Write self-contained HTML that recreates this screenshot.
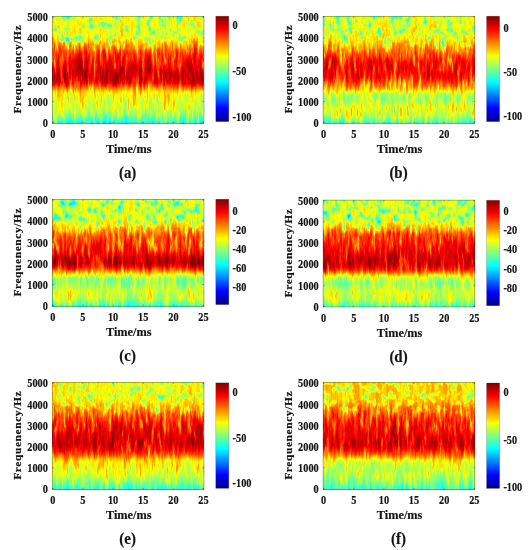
<!DOCTYPE html>
<html><head><meta charset="utf-8"><title>Spectrograms</title>
<style>
html,body{margin:0;padding:0;background:#fff;}
svg{display:block}
text{font-family:"Liberation Serif","Times New Roman",serif;font-weight:bold;fill:#141414;stroke:#141414;stroke-width:.18px}
.t{font-size:11.7px}
.l{font-size:13.4px}
.yl{font-size:11.4px;letter-spacing:.62px}
.c{font-size:16.4px}
</style></head><body>
<svg width="531" height="550" viewBox="0 0 531 550">
<defs>
<linearGradient id="jet" x1="0" y1="1" x2="0" y2="0">
<stop offset="0" stop-color="rgb(0,0,133)"/><stop offset=".125" stop-color="rgb(0,0,255)"/><stop offset=".375" stop-color="rgb(0,255,255)"/><stop offset=".625" stop-color="rgb(255,255,0)"/><stop offset=".875" stop-color="rgb(255,0,0)"/><stop offset="1" stop-color="rgb(128,0,0)"/></linearGradient>
<linearGradient id="ga" x1="0" y1="0" x2="0" y2="1"><stop offset="0.0000" stop-color="rgb(138,20,51)"/><stop offset="0.0250" stop-color="rgb(137,22,51)"/><stop offset="0.0500" stop-color="rgb(137,23,51)"/><stop offset="0.0750" stop-color="rgb(136,25,51)"/><stop offset="0.1000" stop-color="rgb(135,26,51)"/><stop offset="0.1250" stop-color="rgb(134,27,51)"/><stop offset="0.1500" stop-color="rgb(133,29,51)"/><stop offset="0.1750" stop-color="rgb(132,30,51)"/><stop offset="0.2000" stop-color="rgb(127,38,48)"/><stop offset="0.2250" stop-color="rgb(130,47,40)"/><stop offset="0.2500" stop-color="rgb(133,56,32)"/><stop offset="0.2750" stop-color="rgb(136,65,24)"/><stop offset="0.3000" stop-color="rgb(145,65,15)"/><stop offset="0.3250" stop-color="rgb(156,64,5)"/><stop offset="0.3500" stop-color="rgb(163,62,0)"/><stop offset="0.3750" stop-color="rgb(167,61,0)"/><stop offset="0.4000" stop-color="rgb(171,59,0)"/><stop offset="0.4250" stop-color="rgb(176,58,0)"/><stop offset="0.4500" stop-color="rgb(180,56,0)"/><stop offset="0.4750" stop-color="rgb(185,54,0)"/><stop offset="0.5000" stop-color="rgb(191,53,0)"/><stop offset="0.5250" stop-color="rgb(195,51,0)"/><stop offset="0.5500" stop-color="rgb(196,49,0)"/><stop offset="0.5750" stop-color="rgb(197,48,0)"/><stop offset="0.6000" stop-color="rgb(196,46,0)"/><stop offset="0.6250" stop-color="rgb(188,49,0)"/><stop offset="0.6500" stop-color="rgb(168,52,0)"/><stop offset="0.6750" stop-color="rgb(147,55,0)"/><stop offset="0.7000" stop-color="rgb(128,58,0)"/><stop offset="0.7250" stop-color="rgb(116,59,0)"/><stop offset="0.7500" stop-color="rgb(111,61,0)"/><stop offset="0.7750" stop-color="rgb(110,61,0)"/><stop offset="0.8000" stop-color="rgb(109,61,0)"/><stop offset="0.8250" stop-color="rgb(107,61,0)"/><stop offset="0.8500" stop-color="rgb(106,61,0)"/><stop offset="0.8750" stop-color="rgb(102,61,0)"/><stop offset="0.9000" stop-color="rgb(97,61,0)"/><stop offset="0.9250" stop-color="rgb(90,61,0)"/><stop offset="0.9500" stop-color="rgb(79,61,0)"/><stop offset="0.9750" stop-color="rgb(70,61,0)"/><stop offset="1.0000" stop-color="rgb(62,61,0)"/></linearGradient>
<filter id="fa" x="0" y="0" width="1" height="1" color-interpolation-filters="sRGB">
<feTurbulence type="fractalNoise" baseFrequency="0.33 0.055" numOctaves="3" seed="3" result="t1"/>
<feColorMatrix in="t1" type="matrix" values="2.2 0 0 0 -.6  2.2 0 0 0 -.6  2.2 0 0 0 -.6  0 0 0 0 1" result="n1l"/>
<feComponentTransfer in="n1l" result="n1"><feFuncR type="gamma" exponent="0.55"/><feFuncG type="gamma" exponent="0.55"/><feFuncB type="gamma" exponent="0.55"/></feComponentTransfer>
<feTurbulence type="fractalNoise" baseFrequency="0.17 0.14" numOctaves="2" seed="103" result="t2"/>
<feColorMatrix in="t2" type="matrix" values="3.0 0 0 0 -1.45  3.0 0 0 0 -1.45  3.0 0 0 0 -1.45  0 0 0 0 1" result="n2"/>
<feTurbulence type="fractalNoise" baseFrequency="0.08 0.012" numOctaves="2" seed="203" result="t3"/>
<feColorMatrix in="t3" type="matrix" values="2 0 0 0 -.5  2 0 0 0 -.5  2 0 0 0 -.5  0 0 0 0 1" result="n3"/>
<feColorMatrix in="SourceGraphic" type="matrix" values="1 0 0 0 0  1 0 0 0 0  1 0 0 0 0  0 0 0 0 1" result="P"/>
<feColorMatrix in="SourceGraphic" type="matrix" values="0 1 0 0 0  0 1 0 0 0  0 1 0 0 0  0 0 0 0 1" result="A1"/>
<feColorMatrix in="SourceGraphic" type="matrix" values="0 0 1 0 0  0 0 1 0 0  0 0 1 0 0  0 0 0 0 1" result="A2"/>
<feComponentTransfer in="n1l" result="n1p"><feFuncR type="gamma" exponent="1.7"/><feFuncG type="gamma" exponent="1.7"/><feFuncB type="gamma" exponent="1.7"/></feComponentTransfer>
<feComposite in="A1" in2="n1" operator="arithmetic" k1="0.9" k2="0" k3="0" k4="0" result="s1"/>
<feComposite in="A1" in2="n1p" operator="arithmetic" k1="0.558" k2="0.393" k3="0" k4="0" result="s1b"/>
<feComposite in="A2" in2="n2" operator="arithmetic" k1="0.9" k2="0" k3="0" k4="0" result="s2"/>
<feComposite in="P" in2="s1" operator="arithmetic" k1="0" k2="1" k3="1" k4="0" result="v1"/>
<feComposite in="P" in2="s1b" operator="arithmetic" k1="0" k2="1" k3="1" k4="0" result="v1b"/>
<feFlood flood-color="#000" x="47.3" y="90.1" width="161.7" height="106.9" result="m"/>
<feGaussianBlur in="m" stdDeviation="0 1.6" result="mb"/>
<feComposite in="v1b" in2="mb" operator="in" result="v1bm"/>
<feMerge result="v1m"><feMergeNode in="v1"/><feMergeNode in="v1bm"/></feMerge>
<feComposite in="v1m" in2="n3" operator="arithmetic" k1="0" k2="1" k3="0.07" k4="0" result="v2"/>
<feColorMatrix in="s2" type="matrix" values="-1 0 0 0 1  -1 0 0 0 1  -1 0 0 0 1  0 0 0 0 1" result="s2i"/>
<feComposite in="v2" in2="s2i" operator="arithmetic" k1="0" k2="1" k3="1" k4="-1" result="v3"/>
<feComponentTransfer in="v3" result="col"><feFuncR type="table" tableValues="0 0 0 0 .5 1 1 1 .5"/><feFuncG type="table" tableValues="0 0 .5 1 1 1 .5 0 0"/><feFuncB type="table" tableValues=".52 1 1 1 .5 0 0 0 0"/><feFuncA type="linear" slope="0" intercept="1"/></feComponentTransfer>
<feGaussianBlur in="col" stdDeviation="0.45" result="bl"/>
<feComponentTransfer in="bl"><feFuncA type="linear" slope="0" intercept="1"/></feComponentTransfer>
</filter>
<linearGradient id="gb" x1="0" y1="0" x2="0" y2="1"><stop offset="0.0000" stop-color="rgb(131,20,51)"/><stop offset="0.0250" stop-color="rgb(131,23,51)"/><stop offset="0.0500" stop-color="rgb(131,25,51)"/><stop offset="0.0750" stop-color="rgb(131,27,51)"/><stop offset="0.1000" stop-color="rgb(131,29,51)"/><stop offset="0.1250" stop-color="rgb(131,31,51)"/><stop offset="0.1500" stop-color="rgb(131,33,51)"/><stop offset="0.1750" stop-color="rgb(131,35,51)"/><stop offset="0.2000" stop-color="rgb(127,42,48)"/><stop offset="0.2250" stop-color="rgb(128,49,40)"/><stop offset="0.2500" stop-color="rgb(129,57,32)"/><stop offset="0.2750" stop-color="rgb(132,65,24)"/><stop offset="0.3000" stop-color="rgb(139,65,15)"/><stop offset="0.3250" stop-color="rgb(145,64,5)"/><stop offset="0.3500" stop-color="rgb(152,62,0)"/><stop offset="0.3750" stop-color="rgb(158,61,0)"/><stop offset="0.4000" stop-color="rgb(165,59,0)"/><stop offset="0.4250" stop-color="rgb(171,58,0)"/><stop offset="0.4500" stop-color="rgb(175,56,0)"/><stop offset="0.4750" stop-color="rgb(178,56,0)"/><stop offset="0.5000" stop-color="rgb(178,56,0)"/><stop offset="0.5250" stop-color="rgb(178,56,0)"/><stop offset="0.5500" stop-color="rgb(178,56,0)"/><stop offset="0.5750" stop-color="rgb(174,56,0)"/><stop offset="0.6000" stop-color="rgb(166,56,0)"/><stop offset="0.6250" stop-color="rgb(154,59,0)"/><stop offset="0.6500" stop-color="rgb(143,62,0)"/><stop offset="0.6750" stop-color="rgb(128,66,0)"/><stop offset="0.7000" stop-color="rgb(114,66,0)"/><stop offset="0.7250" stop-color="rgb(98,66,0)"/><stop offset="0.7500" stop-color="rgb(90,66,0)"/><stop offset="0.7750" stop-color="rgb(87,67,0)"/><stop offset="0.8000" stop-color="rgb(92,68,0)"/><stop offset="0.8250" stop-color="rgb(98,69,0)"/><stop offset="0.8500" stop-color="rgb(104,70,0)"/><stop offset="0.8750" stop-color="rgb(104,71,0)"/><stop offset="0.9000" stop-color="rgb(101,72,0)"/><stop offset="0.9250" stop-color="rgb(97,73,0)"/><stop offset="0.9500" stop-color="rgb(87,74,0)"/><stop offset="0.9750" stop-color="rgb(75,75,0)"/><stop offset="1.0000" stop-color="rgb(64,76,0)"/></linearGradient>
<filter id="fb" x="0" y="0" width="1" height="1" color-interpolation-filters="sRGB">
<feTurbulence type="fractalNoise" baseFrequency="0.33 0.055" numOctaves="3" seed="11" result="t1"/>
<feColorMatrix in="t1" type="matrix" values="2.2 0 0 0 -.6  2.2 0 0 0 -.6  2.2 0 0 0 -.6  0 0 0 0 1" result="n1l"/>
<feComponentTransfer in="n1l" result="n1"><feFuncR type="gamma" exponent="0.55"/><feFuncG type="gamma" exponent="0.55"/><feFuncB type="gamma" exponent="0.55"/></feComponentTransfer>
<feTurbulence type="fractalNoise" baseFrequency="0.17 0.14" numOctaves="2" seed="111" result="t2"/>
<feColorMatrix in="t2" type="matrix" values="3.0 0 0 0 -1.45  3.0 0 0 0 -1.45  3.0 0 0 0 -1.45  0 0 0 0 1" result="n2"/>
<feTurbulence type="fractalNoise" baseFrequency="0.08 0.012" numOctaves="2" seed="211" result="t3"/>
<feColorMatrix in="t3" type="matrix" values="2 0 0 0 -.5  2 0 0 0 -.5  2 0 0 0 -.5  0 0 0 0 1" result="n3"/>
<feColorMatrix in="SourceGraphic" type="matrix" values="1 0 0 0 0  1 0 0 0 0  1 0 0 0 0  0 0 0 0 1" result="P"/>
<feColorMatrix in="SourceGraphic" type="matrix" values="0 1 0 0 0  0 1 0 0 0  0 1 0 0 0  0 0 0 0 1" result="A1"/>
<feColorMatrix in="SourceGraphic" type="matrix" values="0 0 1 0 0  0 0 1 0 0  0 0 1 0 0  0 0 0 0 1" result="A2"/>
<feComponentTransfer in="n1l" result="n1p"><feFuncR type="gamma" exponent="1.7"/><feFuncG type="gamma" exponent="1.7"/><feFuncB type="gamma" exponent="1.7"/></feComponentTransfer>
<feComposite in="A1" in2="n1" operator="arithmetic" k1="0.9" k2="0" k3="0" k4="0" result="s1"/>
<feComposite in="A1" in2="n1p" operator="arithmetic" k1="0.558" k2="0.393" k3="0" k4="0" result="s1b"/>
<feComposite in="A2" in2="n2" operator="arithmetic" k1="0.9" k2="0" k3="0" k4="0" result="s2"/>
<feComposite in="P" in2="s1" operator="arithmetic" k1="0" k2="1" k3="1" k4="0" result="v1"/>
<feComposite in="P" in2="s1b" operator="arithmetic" k1="0" k2="1" k3="1" k4="0" result="v1b"/>
<feFlood flood-color="#000" x="318.1" y="90.1" width="161.7" height="106.9" result="m"/>
<feGaussianBlur in="m" stdDeviation="0 1.6" result="mb"/>
<feComposite in="v1b" in2="mb" operator="in" result="v1bm"/>
<feMerge result="v1m"><feMergeNode in="v1"/><feMergeNode in="v1bm"/></feMerge>
<feComposite in="v1m" in2="n3" operator="arithmetic" k1="0" k2="1" k3="0.07" k4="0" result="v2"/>
<feColorMatrix in="s2" type="matrix" values="-1 0 0 0 1  -1 0 0 0 1  -1 0 0 0 1  0 0 0 0 1" result="s2i"/>
<feComposite in="v2" in2="s2i" operator="arithmetic" k1="0" k2="1" k3="1" k4="-1" result="v3"/>
<feComponentTransfer in="v3" result="col"><feFuncR type="table" tableValues="0 0 0 0 .5 1 1 1 .5"/><feFuncG type="table" tableValues="0 0 .5 1 1 1 .5 0 0"/><feFuncB type="table" tableValues=".52 1 1 1 .5 0 0 0 0"/><feFuncA type="linear" slope="0" intercept="1"/></feComponentTransfer>
<feGaussianBlur in="col" stdDeviation="0.45" result="bl"/>
<feComponentTransfer in="bl"><feFuncA type="linear" slope="0" intercept="1"/></feComponentTransfer>
</filter>
<linearGradient id="gc" x1="0" y1="0" x2="0" y2="1"><stop offset="0.0000" stop-color="rgb(133,20,64)"/><stop offset="0.0250" stop-color="rgb(132,22,63)"/><stop offset="0.0500" stop-color="rgb(132,23,63)"/><stop offset="0.0750" stop-color="rgb(131,25,63)"/><stop offset="0.1000" stop-color="rgb(130,26,62)"/><stop offset="0.1250" stop-color="rgb(129,27,62)"/><stop offset="0.1500" stop-color="rgb(129,29,62)"/><stop offset="0.1750" stop-color="rgb(128,30,61)"/><stop offset="0.2000" stop-color="rgb(123,38,57)"/><stop offset="0.2250" stop-color="rgb(122,47,46)"/><stop offset="0.2500" stop-color="rgb(125,56,34)"/><stop offset="0.2750" stop-color="rgb(129,65,24)"/><stop offset="0.3000" stop-color="rgb(137,65,15)"/><stop offset="0.3250" stop-color="rgb(147,64,5)"/><stop offset="0.3500" stop-color="rgb(154,62,0)"/><stop offset="0.3750" stop-color="rgb(158,61,0)"/><stop offset="0.4000" stop-color="rgb(163,59,0)"/><stop offset="0.4250" stop-color="rgb(167,58,0)"/><stop offset="0.4500" stop-color="rgb(171,56,0)"/><stop offset="0.4750" stop-color="rgb(176,54,0)"/><stop offset="0.5000" stop-color="rgb(181,53,0)"/><stop offset="0.5250" stop-color="rgb(187,51,0)"/><stop offset="0.5500" stop-color="rgb(195,49,0)"/><stop offset="0.5750" stop-color="rgb(199,48,0)"/><stop offset="0.6000" stop-color="rgb(200,46,0)"/><stop offset="0.6250" stop-color="rgb(188,49,0)"/><stop offset="0.6500" stop-color="rgb(169,52,0)"/><stop offset="0.6750" stop-color="rgb(144,55,0)"/><stop offset="0.7000" stop-color="rgb(119,58,0)"/><stop offset="0.7250" stop-color="rgb(100,59,0)"/><stop offset="0.7500" stop-color="rgb(88,61,0)"/><stop offset="0.7750" stop-color="rgb(89,61,0)"/><stop offset="0.8000" stop-color="rgb(92,61,0)"/><stop offset="0.8250" stop-color="rgb(98,61,0)"/><stop offset="0.8500" stop-color="rgb(104,61,0)"/><stop offset="0.8750" stop-color="rgb(105,61,0)"/><stop offset="0.9000" stop-color="rgb(103,61,0)"/><stop offset="0.9250" stop-color="rgb(101,61,0)"/><stop offset="0.9500" stop-color="rgb(92,61,0)"/><stop offset="0.9750" stop-color="rgb(81,61,0)"/><stop offset="1.0000" stop-color="rgb(71,61,0)"/></linearGradient>
<filter id="fc" x="0" y="0" width="1" height="1" color-interpolation-filters="sRGB">
<feTurbulence type="fractalNoise" baseFrequency="0.33 0.055" numOctaves="3" seed="23" result="t1"/>
<feColorMatrix in="t1" type="matrix" values="2.2 0 0 0 -.6  2.2 0 0 0 -.6  2.2 0 0 0 -.6  0 0 0 0 1" result="n1l"/>
<feComponentTransfer in="n1l" result="n1"><feFuncR type="gamma" exponent="0.55"/><feFuncG type="gamma" exponent="0.55"/><feFuncB type="gamma" exponent="0.55"/></feComponentTransfer>
<feTurbulence type="fractalNoise" baseFrequency="0.17 0.14" numOctaves="2" seed="123" result="t2"/>
<feColorMatrix in="t2" type="matrix" values="3.0 0 0 0 -1.45  3.0 0 0 0 -1.45  3.0 0 0 0 -1.45  0 0 0 0 1" result="n2"/>
<feTurbulence type="fractalNoise" baseFrequency="0.08 0.012" numOctaves="2" seed="223" result="t3"/>
<feColorMatrix in="t3" type="matrix" values="2 0 0 0 -.5  2 0 0 0 -.5  2 0 0 0 -.5  0 0 0 0 1" result="n3"/>
<feColorMatrix in="SourceGraphic" type="matrix" values="1 0 0 0 0  1 0 0 0 0  1 0 0 0 0  0 0 0 0 1" result="P"/>
<feColorMatrix in="SourceGraphic" type="matrix" values="0 1 0 0 0  0 1 0 0 0  0 1 0 0 0  0 0 0 0 1" result="A1"/>
<feColorMatrix in="SourceGraphic" type="matrix" values="0 0 1 0 0  0 0 1 0 0  0 0 1 0 0  0 0 0 0 1" result="A2"/>
<feComponentTransfer in="n1l" result="n1p"><feFuncR type="gamma" exponent="1.7"/><feFuncG type="gamma" exponent="1.7"/><feFuncB type="gamma" exponent="1.7"/></feComponentTransfer>
<feComposite in="A1" in2="n1" operator="arithmetic" k1="0.9" k2="0" k3="0" k4="0" result="s1"/>
<feComposite in="A1" in2="n1p" operator="arithmetic" k1="0.558" k2="0.393" k3="0" k4="0" result="s1b"/>
<feComposite in="A2" in2="n2" operator="arithmetic" k1="0.9" k2="0" k3="0" k4="0" result="s2"/>
<feComposite in="P" in2="s1" operator="arithmetic" k1="0" k2="1" k3="1" k4="0" result="v1"/>
<feComposite in="P" in2="s1b" operator="arithmetic" k1="0" k2="1" k3="1" k4="0" result="v1b"/>
<feFlood flood-color="#000" x="47.3" y="273.1" width="161.7" height="106.9" result="m"/>
<feGaussianBlur in="m" stdDeviation="0 1.6" result="mb"/>
<feComposite in="v1b" in2="mb" operator="in" result="v1bm"/>
<feMerge result="v1m"><feMergeNode in="v1"/><feMergeNode in="v1bm"/></feMerge>
<feComposite in="v1m" in2="n3" operator="arithmetic" k1="0" k2="1" k3="0.07" k4="0" result="v2"/>
<feColorMatrix in="s2" type="matrix" values="-1 0 0 0 1  -1 0 0 0 1  -1 0 0 0 1  0 0 0 0 1" result="s2i"/>
<feComposite in="v2" in2="s2i" operator="arithmetic" k1="0" k2="1" k3="1" k4="-1" result="v3"/>
<feComponentTransfer in="v3" result="col"><feFuncR type="table" tableValues="0 0 0 0 .5 1 1 1 .5"/><feFuncG type="table" tableValues="0 0 .5 1 1 1 .5 0 0"/><feFuncB type="table" tableValues=".52 1 1 1 .5 0 0 0 0"/><feFuncA type="linear" slope="0" intercept="1"/></feComponentTransfer>
<feGaussianBlur in="col" stdDeviation="0.45" result="bl"/>
<feComponentTransfer in="bl"><feFuncA type="linear" slope="0" intercept="1"/></feComponentTransfer>
</filter>
<linearGradient id="gd" x1="0" y1="0" x2="0" y2="1"><stop offset="0.0000" stop-color="rgb(133,20,64)"/><stop offset="0.0250" stop-color="rgb(132,22,63)"/><stop offset="0.0500" stop-color="rgb(132,23,63)"/><stop offset="0.0750" stop-color="rgb(131,25,63)"/><stop offset="0.1000" stop-color="rgb(130,26,62)"/><stop offset="0.1250" stop-color="rgb(129,27,62)"/><stop offset="0.1500" stop-color="rgb(129,29,62)"/><stop offset="0.1750" stop-color="rgb(128,30,61)"/><stop offset="0.2000" stop-color="rgb(123,38,57)"/><stop offset="0.2250" stop-color="rgb(127,47,46)"/><stop offset="0.2500" stop-color="rgb(131,56,34)"/><stop offset="0.2750" stop-color="rgb(136,65,24)"/><stop offset="0.3000" stop-color="rgb(148,65,15)"/><stop offset="0.3250" stop-color="rgb(159,64,5)"/><stop offset="0.3500" stop-color="rgb(162,62,0)"/><stop offset="0.3750" stop-color="rgb(165,61,0)"/><stop offset="0.4000" stop-color="rgb(169,59,0)"/><stop offset="0.4250" stop-color="rgb(173,58,0)"/><stop offset="0.4500" stop-color="rgb(177,56,0)"/><stop offset="0.4750" stop-color="rgb(182,54,0)"/><stop offset="0.5000" stop-color="rgb(187,53,0)"/><stop offset="0.5250" stop-color="rgb(192,51,0)"/><stop offset="0.5500" stop-color="rgb(195,49,0)"/><stop offset="0.5750" stop-color="rgb(196,48,0)"/><stop offset="0.6000" stop-color="rgb(198,46,0)"/><stop offset="0.6250" stop-color="rgb(189,49,0)"/><stop offset="0.6500" stop-color="rgb(175,52,0)"/><stop offset="0.6750" stop-color="rgb(152,55,0)"/><stop offset="0.7000" stop-color="rgb(125,58,0)"/><stop offset="0.7250" stop-color="rgb(104,59,0)"/><stop offset="0.7500" stop-color="rgb(96,61,0)"/><stop offset="0.7750" stop-color="rgb(90,61,0)"/><stop offset="0.8000" stop-color="rgb(92,61,0)"/><stop offset="0.8250" stop-color="rgb(97,61,0)"/><stop offset="0.8500" stop-color="rgb(102,61,0)"/><stop offset="0.8750" stop-color="rgb(103,61,0)"/><stop offset="0.9000" stop-color="rgb(101,61,0)"/><stop offset="0.9250" stop-color="rgb(99,61,0)"/><stop offset="0.9500" stop-color="rgb(91,61,0)"/><stop offset="0.9750" stop-color="rgb(81,61,0)"/><stop offset="1.0000" stop-color="rgb(68,61,0)"/></linearGradient>
<filter id="fd" x="0" y="0" width="1" height="1" color-interpolation-filters="sRGB">
<feTurbulence type="fractalNoise" baseFrequency="0.33 0.055" numOctaves="3" seed="31" result="t1"/>
<feColorMatrix in="t1" type="matrix" values="2.2 0 0 0 -.6  2.2 0 0 0 -.6  2.2 0 0 0 -.6  0 0 0 0 1" result="n1l"/>
<feComponentTransfer in="n1l" result="n1"><feFuncR type="gamma" exponent="0.55"/><feFuncG type="gamma" exponent="0.55"/><feFuncB type="gamma" exponent="0.55"/></feComponentTransfer>
<feTurbulence type="fractalNoise" baseFrequency="0.17 0.14" numOctaves="2" seed="131" result="t2"/>
<feColorMatrix in="t2" type="matrix" values="3.0 0 0 0 -1.45  3.0 0 0 0 -1.45  3.0 0 0 0 -1.45  0 0 0 0 1" result="n2"/>
<feTurbulence type="fractalNoise" baseFrequency="0.08 0.012" numOctaves="2" seed="231" result="t3"/>
<feColorMatrix in="t3" type="matrix" values="2 0 0 0 -.5  2 0 0 0 -.5  2 0 0 0 -.5  0 0 0 0 1" result="n3"/>
<feColorMatrix in="SourceGraphic" type="matrix" values="1 0 0 0 0  1 0 0 0 0  1 0 0 0 0  0 0 0 0 1" result="P"/>
<feColorMatrix in="SourceGraphic" type="matrix" values="0 1 0 0 0  0 1 0 0 0  0 1 0 0 0  0 0 0 0 1" result="A1"/>
<feColorMatrix in="SourceGraphic" type="matrix" values="0 0 1 0 0  0 0 1 0 0  0 0 1 0 0  0 0 0 0 1" result="A2"/>
<feComponentTransfer in="n1l" result="n1p"><feFuncR type="gamma" exponent="1.7"/><feFuncG type="gamma" exponent="1.7"/><feFuncB type="gamma" exponent="1.7"/></feComponentTransfer>
<feComposite in="A1" in2="n1" operator="arithmetic" k1="0.9" k2="0" k3="0" k4="0" result="s1"/>
<feComposite in="A1" in2="n1p" operator="arithmetic" k1="0.558" k2="0.393" k3="0" k4="0" result="s1b"/>
<feComposite in="A2" in2="n2" operator="arithmetic" k1="0.9" k2="0" k3="0" k4="0" result="s2"/>
<feComposite in="P" in2="s1" operator="arithmetic" k1="0" k2="1" k3="1" k4="0" result="v1"/>
<feComposite in="P" in2="s1b" operator="arithmetic" k1="0" k2="1" k3="1" k4="0" result="v1b"/>
<feFlood flood-color="#000" x="318.1" y="273.9" width="161.7" height="106.9" result="m"/>
<feGaussianBlur in="m" stdDeviation="0 1.6" result="mb"/>
<feComposite in="v1b" in2="mb" operator="in" result="v1bm"/>
<feMerge result="v1m"><feMergeNode in="v1"/><feMergeNode in="v1bm"/></feMerge>
<feComposite in="v1m" in2="n3" operator="arithmetic" k1="0" k2="1" k3="0.07" k4="0" result="v2"/>
<feColorMatrix in="s2" type="matrix" values="-1 0 0 0 1  -1 0 0 0 1  -1 0 0 0 1  0 0 0 0 1" result="s2i"/>
<feComposite in="v2" in2="s2i" operator="arithmetic" k1="0" k2="1" k3="1" k4="-1" result="v3"/>
<feComponentTransfer in="v3" result="col"><feFuncR type="table" tableValues="0 0 0 0 .5 1 1 1 .5"/><feFuncG type="table" tableValues="0 0 .5 1 1 1 .5 0 0"/><feFuncB type="table" tableValues=".52 1 1 1 .5 0 0 0 0"/><feFuncA type="linear" slope="0" intercept="1"/></feComponentTransfer>
<feGaussianBlur in="col" stdDeviation="0.45" result="bl"/>
<feComponentTransfer in="bl"><feFuncA type="linear" slope="0" intercept="1"/></feComponentTransfer>
</filter>
<linearGradient id="ge" x1="0" y1="0" x2="0" y2="1"><stop offset="0.0000" stop-color="rgb(144,20,48)"/><stop offset="0.0250" stop-color="rgb(143,22,48)"/><stop offset="0.0500" stop-color="rgb(142,23,48)"/><stop offset="0.0750" stop-color="rgb(142,25,48)"/><stop offset="0.1000" stop-color="rgb(141,26,48)"/><stop offset="0.1250" stop-color="rgb(140,27,48)"/><stop offset="0.1500" stop-color="rgb(139,29,48)"/><stop offset="0.1750" stop-color="rgb(140,30,48)"/><stop offset="0.2000" stop-color="rgb(142,38,46)"/><stop offset="0.2250" stop-color="rgb(142,47,38)"/><stop offset="0.2500" stop-color="rgb(143,56,31)"/><stop offset="0.2750" stop-color="rgb(144,65,24)"/><stop offset="0.3000" stop-color="rgb(150,65,15)"/><stop offset="0.3250" stop-color="rgb(158,64,5)"/><stop offset="0.3500" stop-color="rgb(163,62,0)"/><stop offset="0.3750" stop-color="rgb(169,61,0)"/><stop offset="0.4000" stop-color="rgb(174,59,0)"/><stop offset="0.4250" stop-color="rgb(179,58,0)"/><stop offset="0.4500" stop-color="rgb(182,56,0)"/><stop offset="0.4750" stop-color="rgb(186,54,0)"/><stop offset="0.5000" stop-color="rgb(189,53,0)"/><stop offset="0.5250" stop-color="rgb(191,51,0)"/><stop offset="0.5500" stop-color="rgb(192,49,0)"/><stop offset="0.5750" stop-color="rgb(193,48,0)"/><stop offset="0.6000" stop-color="rgb(190,46,0)"/><stop offset="0.6250" stop-color="rgb(182,49,0)"/><stop offset="0.6500" stop-color="rgb(172,52,0)"/><stop offset="0.6750" stop-color="rgb(157,55,0)"/><stop offset="0.7000" stop-color="rgb(141,58,0)"/><stop offset="0.7250" stop-color="rgb(123,59,0)"/><stop offset="0.7500" stop-color="rgb(113,61,0)"/><stop offset="0.7750" stop-color="rgb(112,61,0)"/><stop offset="0.8000" stop-color="rgb(110,61,0)"/><stop offset="0.8250" stop-color="rgb(108,61,0)"/><stop offset="0.8500" stop-color="rgb(107,61,0)"/><stop offset="0.8750" stop-color="rgb(104,61,0)"/><stop offset="0.9000" stop-color="rgb(98,61,0)"/><stop offset="0.9250" stop-color="rgb(91,61,0)"/><stop offset="0.9500" stop-color="rgb(82,61,0)"/><stop offset="0.9750" stop-color="rgb(72,61,0)"/><stop offset="1.0000" stop-color="rgb(63,61,0)"/></linearGradient>
<filter id="fe" x="0" y="0" width="1" height="1" color-interpolation-filters="sRGB">
<feTurbulence type="fractalNoise" baseFrequency="0.33 0.055" numOctaves="3" seed="47" result="t1"/>
<feColorMatrix in="t1" type="matrix" values="2.2 0 0 0 -.6  2.2 0 0 0 -.6  2.2 0 0 0 -.6  0 0 0 0 1" result="n1l"/>
<feComponentTransfer in="n1l" result="n1"><feFuncR type="gamma" exponent="0.55"/><feFuncG type="gamma" exponent="0.55"/><feFuncB type="gamma" exponent="0.55"/></feComponentTransfer>
<feTurbulence type="fractalNoise" baseFrequency="0.17 0.14" numOctaves="2" seed="147" result="t2"/>
<feColorMatrix in="t2" type="matrix" values="3.0 0 0 0 -1.45  3.0 0 0 0 -1.45  3.0 0 0 0 -1.45  0 0 0 0 1" result="n2"/>
<feTurbulence type="fractalNoise" baseFrequency="0.08 0.012" numOctaves="2" seed="247" result="t3"/>
<feColorMatrix in="t3" type="matrix" values="2 0 0 0 -.5  2 0 0 0 -.5  2 0 0 0 -.5  0 0 0 0 1" result="n3"/>
<feColorMatrix in="SourceGraphic" type="matrix" values="1 0 0 0 0  1 0 0 0 0  1 0 0 0 0  0 0 0 0 1" result="P"/>
<feColorMatrix in="SourceGraphic" type="matrix" values="0 1 0 0 0  0 1 0 0 0  0 1 0 0 0  0 0 0 0 1" result="A1"/>
<feColorMatrix in="SourceGraphic" type="matrix" values="0 0 1 0 0  0 0 1 0 0  0 0 1 0 0  0 0 0 0 1" result="A2"/>
<feComponentTransfer in="n1l" result="n1p"><feFuncR type="gamma" exponent="1.7"/><feFuncG type="gamma" exponent="1.7"/><feFuncB type="gamma" exponent="1.7"/></feComponentTransfer>
<feComposite in="A1" in2="n1" operator="arithmetic" k1="0.9" k2="0" k3="0" k4="0" result="s1"/>
<feComposite in="A1" in2="n1p" operator="arithmetic" k1="0.558" k2="0.393" k3="0" k4="0" result="s1b"/>
<feComposite in="A2" in2="n2" operator="arithmetic" k1="0.9" k2="0" k3="0" k4="0" result="s2"/>
<feComposite in="P" in2="s1" operator="arithmetic" k1="0" k2="1" k3="1" k4="0" result="v1"/>
<feComposite in="P" in2="s1b" operator="arithmetic" k1="0" k2="1" k3="1" k4="0" result="v1b"/>
<feFlood flood-color="#000" x="47.3" y="456.3" width="161.7" height="106.9" result="m"/>
<feGaussianBlur in="m" stdDeviation="0 1.6" result="mb"/>
<feComposite in="v1b" in2="mb" operator="in" result="v1bm"/>
<feMerge result="v1m"><feMergeNode in="v1"/><feMergeNode in="v1bm"/></feMerge>
<feComposite in="v1m" in2="n3" operator="arithmetic" k1="0" k2="1" k3="0.07" k4="0" result="v2"/>
<feColorMatrix in="s2" type="matrix" values="-1 0 0 0 1  -1 0 0 0 1  -1 0 0 0 1  0 0 0 0 1" result="s2i"/>
<feComposite in="v2" in2="s2i" operator="arithmetic" k1="0" k2="1" k3="1" k4="-1" result="v3"/>
<feComponentTransfer in="v3" result="col"><feFuncR type="table" tableValues="0 0 0 0 .5 1 1 1 .5"/><feFuncG type="table" tableValues="0 0 .5 1 1 1 .5 0 0"/><feFuncB type="table" tableValues=".52 1 1 1 .5 0 0 0 0"/><feFuncA type="linear" slope="0" intercept="1"/></feComponentTransfer>
<feGaussianBlur in="col" stdDeviation="0.45" result="bl"/>
<feComponentTransfer in="bl"><feFuncA type="linear" slope="0" intercept="1"/></feComponentTransfer>
</filter>
<linearGradient id="gf" x1="0" y1="0" x2="0" y2="1"><stop offset="0.0000" stop-color="rgb(150,20,48)"/><stop offset="0.0250" stop-color="rgb(150,22,48)"/><stop offset="0.0500" stop-color="rgb(149,23,48)"/><stop offset="0.0750" stop-color="rgb(148,25,48)"/><stop offset="0.1000" stop-color="rgb(147,26,48)"/><stop offset="0.1250" stop-color="rgb(146,27,48)"/><stop offset="0.1500" stop-color="rgb(145,29,48)"/><stop offset="0.1750" stop-color="rgb(150,30,48)"/><stop offset="0.2000" stop-color="rgb(151,38,46)"/><stop offset="0.2250" stop-color="rgb(151,47,38)"/><stop offset="0.2500" stop-color="rgb(151,56,31)"/><stop offset="0.2750" stop-color="rgb(150,65,24)"/><stop offset="0.3000" stop-color="rgb(155,65,15)"/><stop offset="0.3250" stop-color="rgb(161,64,5)"/><stop offset="0.3500" stop-color="rgb(165,62,0)"/><stop offset="0.3750" stop-color="rgb(169,61,0)"/><stop offset="0.4000" stop-color="rgb(172,59,0)"/><stop offset="0.4250" stop-color="rgb(176,58,0)"/><stop offset="0.4500" stop-color="rgb(180,56,0)"/><stop offset="0.4750" stop-color="rgb(184,54,0)"/><stop offset="0.5000" stop-color="rgb(189,53,0)"/><stop offset="0.5250" stop-color="rgb(193,51,0)"/><stop offset="0.5500" stop-color="rgb(196,49,0)"/><stop offset="0.5750" stop-color="rgb(197,48,0)"/><stop offset="0.6000" stop-color="rgb(195,46,0)"/><stop offset="0.6250" stop-color="rgb(185,49,0)"/><stop offset="0.6500" stop-color="rgb(172,52,0)"/><stop offset="0.6750" stop-color="rgb(156,55,0)"/><stop offset="0.7000" stop-color="rgb(139,58,0)"/><stop offset="0.7250" stop-color="rgb(119,59,0)"/><stop offset="0.7500" stop-color="rgb(107,61,0)"/><stop offset="0.7750" stop-color="rgb(105,61,0)"/><stop offset="0.8000" stop-color="rgb(103,61,0)"/><stop offset="0.8250" stop-color="rgb(101,61,0)"/><stop offset="0.8500" stop-color="rgb(100,61,0)"/><stop offset="0.8750" stop-color="rgb(98,61,0)"/><stop offset="0.9000" stop-color="rgb(92,61,0)"/><stop offset="0.9250" stop-color="rgb(87,61,0)"/><stop offset="0.9500" stop-color="rgb(80,61,0)"/><stop offset="0.9750" stop-color="rgb(72,61,0)"/><stop offset="1.0000" stop-color="rgb(66,61,0)"/></linearGradient>
<filter id="ff" x="0" y="0" width="1" height="1" color-interpolation-filters="sRGB">
<feTurbulence type="fractalNoise" baseFrequency="0.33 0.055" numOctaves="3" seed="59" result="t1"/>
<feColorMatrix in="t1" type="matrix" values="2.2 0 0 0 -.6  2.2 0 0 0 -.6  2.2 0 0 0 -.6  0 0 0 0 1" result="n1l"/>
<feComponentTransfer in="n1l" result="n1"><feFuncR type="gamma" exponent="0.55"/><feFuncG type="gamma" exponent="0.55"/><feFuncB type="gamma" exponent="0.55"/></feComponentTransfer>
<feTurbulence type="fractalNoise" baseFrequency="0.17 0.14" numOctaves="2" seed="159" result="t2"/>
<feColorMatrix in="t2" type="matrix" values="3.0 0 0 0 -1.45  3.0 0 0 0 -1.45  3.0 0 0 0 -1.45  0 0 0 0 1" result="n2"/>
<feTurbulence type="fractalNoise" baseFrequency="0.08 0.012" numOctaves="2" seed="259" result="t3"/>
<feColorMatrix in="t3" type="matrix" values="2 0 0 0 -.5  2 0 0 0 -.5  2 0 0 0 -.5  0 0 0 0 1" result="n3"/>
<feColorMatrix in="SourceGraphic" type="matrix" values="1 0 0 0 0  1 0 0 0 0  1 0 0 0 0  0 0 0 0 1" result="P"/>
<feColorMatrix in="SourceGraphic" type="matrix" values="0 1 0 0 0  0 1 0 0 0  0 1 0 0 0  0 0 0 0 1" result="A1"/>
<feColorMatrix in="SourceGraphic" type="matrix" values="0 0 1 0 0  0 0 1 0 0  0 0 1 0 0  0 0 0 0 1" result="A2"/>
<feComponentTransfer in="n1l" result="n1p"><feFuncR type="gamma" exponent="1.7"/><feFuncG type="gamma" exponent="1.7"/><feFuncB type="gamma" exponent="1.7"/></feComponentTransfer>
<feComposite in="A1" in2="n1" operator="arithmetic" k1="0.9" k2="0" k3="0" k4="0" result="s1"/>
<feComposite in="A1" in2="n1p" operator="arithmetic" k1="0.558" k2="0.393" k3="0" k4="0" result="s1b"/>
<feComposite in="A2" in2="n2" operator="arithmetic" k1="0.9" k2="0" k3="0" k4="0" result="s2"/>
<feComposite in="P" in2="s1" operator="arithmetic" k1="0" k2="1" k3="1" k4="0" result="v1"/>
<feComposite in="P" in2="s1b" operator="arithmetic" k1="0" k2="1" k3="1" k4="0" result="v1b"/>
<feFlood flood-color="#000" x="318.1" y="456.3" width="161.7" height="106.9" result="m"/>
<feGaussianBlur in="m" stdDeviation="0 1.6" result="mb"/>
<feComposite in="v1b" in2="mb" operator="in" result="v1bm"/>
<feMerge result="v1m"><feMergeNode in="v1"/><feMergeNode in="v1bm"/></feMerge>
<feComposite in="v1m" in2="n3" operator="arithmetic" k1="0" k2="1" k3="0.07" k4="0" result="v2"/>
<feColorMatrix in="s2" type="matrix" values="-1 0 0 0 1  -1 0 0 0 1  -1 0 0 0 1  0 0 0 0 1" result="s2i"/>
<feComposite in="v2" in2="s2i" operator="arithmetic" k1="0" k2="1" k3="1" k4="-1" result="v3"/>
<feComponentTransfer in="v3" result="col"><feFuncR type="table" tableValues="0 0 0 0 .5 1 1 1 .5"/><feFuncG type="table" tableValues="0 0 .5 1 1 1 .5 0 0"/><feFuncB type="table" tableValues=".52 1 1 1 .5 0 0 0 0"/><feFuncA type="linear" slope="0" intercept="1"/></feComponentTransfer>
<feGaussianBlur in="col" stdDeviation="0.45" result="bl"/>
<feComponentTransfer in="bl"><feFuncA type="linear" slope="0" intercept="1"/></feComponentTransfer>
</filter>
</defs>
<rect width="531" height="550" fill="#fff"/>
<g>
<rect x="52.3" y="16.3" width="151.7" height="106.9" fill="url(#ga)" filter="url(#fa)"/>
<rect x="52.3" y="16.3" width="151.7" height="106.9" fill="none" stroke="#222" stroke-opacity=".55" stroke-width=".6"/>
<rect x="215.8" y="16.2" width="13.0" height="105.4" fill="url(#jet)"/>
<rect x="215.8" y="16.2" width="13.0" height="105.4" fill="none" stroke="#222" stroke-opacity=".4" stroke-width=".5"/>
<text class="t" transform="translate(232.6 29.1) scale(0.88 1)">0</text>
<text class="t" transform="translate(232.6 75.1) scale(0.88 1)">-50</text>
<text class="t" transform="translate(232.6 120.8) scale(0.88 1)">-100</text>
<text class="t" text-anchor="end" transform="translate(47.9 21.1) scale(0.88 1)">5000</text>
<text class="t" text-anchor="end" transform="translate(47.9 42.3) scale(0.88 1)">4000</text>
<text class="t" text-anchor="end" transform="translate(47.9 63.5) scale(0.88 1)">3000</text>
<text class="t" text-anchor="end" transform="translate(47.9 84.6) scale(0.88 1)">2000</text>
<text class="t" text-anchor="end" transform="translate(47.9 105.8) scale(0.88 1)">1000</text>
<text class="t" text-anchor="end" transform="translate(47.9 127.0) scale(0.88 1)">0</text>
<text class="t" text-anchor="middle" transform="translate(52.8 138.2) scale(0.88 1)">0</text>
<text class="t" text-anchor="middle" transform="translate(82.9 138.2) scale(0.88 1)">5</text>
<text class="t" text-anchor="middle" transform="translate(113.1 138.2) scale(0.88 1)">10</text>
<text class="t" text-anchor="middle" transform="translate(143.2 138.2) scale(0.88 1)">15</text>
<text class="t" text-anchor="middle" transform="translate(173.4 138.2) scale(0.88 1)">20</text>
<text class="t" text-anchor="middle" transform="translate(203.5 138.2) scale(0.88 1)">25</text>
<path d="M52.8 123.2v-1.6M52.8 16.3v1.6M52.3 16.8h1.6M204.0 16.8h-1.6M82.9 123.2v-1.6M82.9 16.3v1.6M52.3 38.0h1.6M204.0 38.0h-1.6M113.1 123.2v-1.6M113.1 16.3v1.6M52.3 59.2h1.6M204.0 59.2h-1.6M143.2 123.2v-1.6M143.2 16.3v1.6M52.3 80.3h1.6M204.0 80.3h-1.6M173.4 123.2v-1.6M173.4 16.3v1.6M52.3 101.5h1.6M204.0 101.5h-1.6M203.5 123.2v-1.6M203.5 16.3v1.6M52.3 122.7h1.6M204.0 122.7h-1.6" stroke="#222" stroke-opacity=".6" stroke-width=".6" fill="none"/>
<text class="l" text-anchor="middle" transform="translate(128.7 153.2) scale(0.92 1)">Time/ms</text>
<text class="yl" text-anchor="middle" transform="translate(21.0,69.2) rotate(-90)">Frequenency/Hz</text>
<text class="c" text-anchor="middle" transform="translate(127.6 178.2) scale(0.91 1)">(a)</text>
</g>
<g>
<rect x="323.1" y="16.3" width="151.7" height="106.9" fill="url(#gb)" filter="url(#fb)"/>
<rect x="323.1" y="16.3" width="151.7" height="106.9" fill="none" stroke="#222" stroke-opacity=".55" stroke-width=".6"/>
<rect x="486.6" y="16.2" width="13.0" height="105.4" fill="url(#jet)"/>
<rect x="486.6" y="16.2" width="13.0" height="105.4" fill="none" stroke="#222" stroke-opacity=".4" stroke-width=".5"/>
<text class="t" transform="translate(503.4 31.5) scale(0.88 1)">0</text>
<text class="t" transform="translate(503.4 75.8) scale(0.88 1)">-50</text>
<text class="t" transform="translate(503.4 119.8) scale(0.88 1)">-100</text>
<text class="t" text-anchor="end" transform="translate(318.7 21.1) scale(0.88 1)">5000</text>
<text class="t" text-anchor="end" transform="translate(318.7 42.3) scale(0.88 1)">4000</text>
<text class="t" text-anchor="end" transform="translate(318.7 63.5) scale(0.88 1)">3000</text>
<text class="t" text-anchor="end" transform="translate(318.7 84.6) scale(0.88 1)">2000</text>
<text class="t" text-anchor="end" transform="translate(318.7 105.8) scale(0.88 1)">1000</text>
<text class="t" text-anchor="end" transform="translate(318.7 127.0) scale(0.88 1)">0</text>
<text class="t" text-anchor="middle" transform="translate(323.6 138.2) scale(0.88 1)">0</text>
<text class="t" text-anchor="middle" transform="translate(353.7 138.2) scale(0.88 1)">5</text>
<text class="t" text-anchor="middle" transform="translate(383.9 138.2) scale(0.88 1)">10</text>
<text class="t" text-anchor="middle" transform="translate(414.0 138.2) scale(0.88 1)">15</text>
<text class="t" text-anchor="middle" transform="translate(444.2 138.2) scale(0.88 1)">20</text>
<text class="t" text-anchor="middle" transform="translate(474.3 138.2) scale(0.88 1)">25</text>
<path d="M323.6 123.2v-1.6M323.6 16.3v1.6M323.1 16.8h1.6M474.8 16.8h-1.6M353.7 123.2v-1.6M353.7 16.3v1.6M323.1 38.0h1.6M474.8 38.0h-1.6M383.9 123.2v-1.6M383.9 16.3v1.6M323.1 59.2h1.6M474.8 59.2h-1.6M414.0 123.2v-1.6M414.0 16.3v1.6M323.1 80.3h1.6M474.8 80.3h-1.6M444.2 123.2v-1.6M444.2 16.3v1.6M323.1 101.5h1.6M474.8 101.5h-1.6M474.3 123.2v-1.6M474.3 16.3v1.6M323.1 122.7h1.6M474.8 122.7h-1.6" stroke="#222" stroke-opacity=".6" stroke-width=".6" fill="none"/>
<text class="l" text-anchor="middle" transform="translate(399.6 153.2) scale(0.92 1)">Time/ms</text>
<text class="yl" text-anchor="middle" transform="translate(291.8,69.2) rotate(-90)">Frequenency/Hz</text>
<text class="c" text-anchor="middle" transform="translate(398.5 178.2) scale(0.91 1)">(b)</text>
</g>
<g>
<rect x="52.3" y="199.3" width="151.7" height="106.9" fill="url(#gc)" filter="url(#fc)"/>
<rect x="52.3" y="199.3" width="151.7" height="106.9" fill="none" stroke="#222" stroke-opacity=".55" stroke-width=".6"/>
<rect x="215.8" y="199.2" width="13.0" height="105.4" fill="url(#jet)"/>
<rect x="215.8" y="199.2" width="13.0" height="105.4" fill="none" stroke="#222" stroke-opacity=".4" stroke-width=".5"/>
<text class="t" transform="translate(232.6 214.5) scale(0.88 1)">0</text>
<text class="t" transform="translate(232.6 233.6) scale(0.88 1)">-20</text>
<text class="t" transform="translate(232.6 252.6) scale(0.88 1)">-40</text>
<text class="t" transform="translate(232.6 271.6) scale(0.88 1)">-60</text>
<text class="t" transform="translate(232.6 290.7) scale(0.88 1)">-80</text>
<text class="t" text-anchor="end" transform="translate(47.9 204.1) scale(0.88 1)">5000</text>
<text class="t" text-anchor="end" transform="translate(47.9 225.3) scale(0.88 1)">4000</text>
<text class="t" text-anchor="end" transform="translate(47.9 246.5) scale(0.88 1)">3000</text>
<text class="t" text-anchor="end" transform="translate(47.9 267.6) scale(0.88 1)">2000</text>
<text class="t" text-anchor="end" transform="translate(47.9 288.8) scale(0.88 1)">1000</text>
<text class="t" text-anchor="end" transform="translate(47.9 310.0) scale(0.88 1)">0</text>
<text class="t" text-anchor="middle" transform="translate(52.8 321.2) scale(0.88 1)">0</text>
<text class="t" text-anchor="middle" transform="translate(82.9 321.2) scale(0.88 1)">5</text>
<text class="t" text-anchor="middle" transform="translate(113.1 321.2) scale(0.88 1)">10</text>
<text class="t" text-anchor="middle" transform="translate(143.2 321.2) scale(0.88 1)">15</text>
<text class="t" text-anchor="middle" transform="translate(173.4 321.2) scale(0.88 1)">20</text>
<text class="t" text-anchor="middle" transform="translate(203.5 321.2) scale(0.88 1)">25</text>
<path d="M52.8 306.2v-1.6M52.8 199.3v1.6M52.3 199.8h1.6M204.0 199.8h-1.6M82.9 306.2v-1.6M82.9 199.3v1.6M52.3 221.0h1.6M204.0 221.0h-1.6M113.1 306.2v-1.6M113.1 199.3v1.6M52.3 242.2h1.6M204.0 242.2h-1.6M143.2 306.2v-1.6M143.2 199.3v1.6M52.3 263.3h1.6M204.0 263.3h-1.6M173.4 306.2v-1.6M173.4 199.3v1.6M52.3 284.5h1.6M204.0 284.5h-1.6M203.5 306.2v-1.6M203.5 199.3v1.6M52.3 305.7h1.6M204.0 305.7h-1.6" stroke="#222" stroke-opacity=".6" stroke-width=".6" fill="none"/>
<text class="l" text-anchor="middle" transform="translate(128.7 336.2) scale(0.92 1)">Time/ms</text>
<text class="yl" text-anchor="middle" transform="translate(21.0,252.2) rotate(-90)">Frequenency/Hz</text>
<text class="c" text-anchor="middle" transform="translate(127.6 361.2) scale(0.91 1)">(c)</text>
</g>
<g>
<rect x="323.1" y="200.1" width="151.7" height="106.9" fill="url(#gd)" filter="url(#fd)"/>
<rect x="323.1" y="200.1" width="151.7" height="106.9" fill="none" stroke="#222" stroke-opacity=".55" stroke-width=".6"/>
<rect x="486.6" y="200.3" width="13.0" height="105.4" fill="url(#jet)"/>
<rect x="486.6" y="200.3" width="13.0" height="105.4" fill="none" stroke="#222" stroke-opacity=".4" stroke-width=".5"/>
<text class="t" transform="translate(503.4 214.7) scale(0.88 1)">0</text>
<text class="t" transform="translate(503.4 233.9) scale(0.88 1)">-20</text>
<text class="t" transform="translate(503.4 253.4) scale(0.88 1)">-40</text>
<text class="t" transform="translate(503.4 272.7) scale(0.88 1)">-60</text>
<text class="t" transform="translate(503.4 292.0) scale(0.88 1)">-80</text>
<text class="t" text-anchor="end" transform="translate(318.7 204.9) scale(0.88 1)">5000</text>
<text class="t" text-anchor="end" transform="translate(318.7 226.1) scale(0.88 1)">4000</text>
<text class="t" text-anchor="end" transform="translate(318.7 247.3) scale(0.88 1)">3000</text>
<text class="t" text-anchor="end" transform="translate(318.7 268.4) scale(0.88 1)">2000</text>
<text class="t" text-anchor="end" transform="translate(318.7 289.6) scale(0.88 1)">1000</text>
<text class="t" text-anchor="end" transform="translate(318.7 310.8) scale(0.88 1)">0</text>
<text class="t" text-anchor="middle" transform="translate(323.6 322.0) scale(0.88 1)">0</text>
<text class="t" text-anchor="middle" transform="translate(353.7 322.0) scale(0.88 1)">5</text>
<text class="t" text-anchor="middle" transform="translate(383.9 322.0) scale(0.88 1)">10</text>
<text class="t" text-anchor="middle" transform="translate(414.0 322.0) scale(0.88 1)">15</text>
<text class="t" text-anchor="middle" transform="translate(444.2 322.0) scale(0.88 1)">20</text>
<text class="t" text-anchor="middle" transform="translate(474.3 322.0) scale(0.88 1)">25</text>
<path d="M323.6 307.0v-1.6M323.6 200.1v1.6M323.1 200.6h1.6M474.8 200.6h-1.6M353.7 307.0v-1.6M353.7 200.1v1.6M323.1 221.8h1.6M474.8 221.8h-1.6M383.9 307.0v-1.6M383.9 200.1v1.6M323.1 243.0h1.6M474.8 243.0h-1.6M414.0 307.0v-1.6M414.0 200.1v1.6M323.1 264.1h1.6M474.8 264.1h-1.6M444.2 307.0v-1.6M444.2 200.1v1.6M323.1 285.3h1.6M474.8 285.3h-1.6M474.3 307.0v-1.6M474.3 200.1v1.6M323.1 306.5h1.6M474.8 306.5h-1.6" stroke="#222" stroke-opacity=".6" stroke-width=".6" fill="none"/>
<text class="l" text-anchor="middle" transform="translate(399.6 337.0) scale(0.92 1)">Time/ms</text>
<text class="yl" text-anchor="middle" transform="translate(291.8,253.0) rotate(-90)">Frequenency/Hz</text>
<text class="c" text-anchor="middle" transform="translate(398.5 362.0) scale(0.91 1)">(d)</text>
</g>
<g>
<rect x="52.3" y="382.5" width="151.7" height="106.9" fill="url(#ge)" filter="url(#fe)"/>
<rect x="52.3" y="382.5" width="151.7" height="106.9" fill="none" stroke="#222" stroke-opacity=".55" stroke-width=".6"/>
<rect x="215.8" y="382.9" width="13.0" height="105.4" fill="url(#jet)"/>
<rect x="215.8" y="382.9" width="13.0" height="105.4" fill="none" stroke="#222" stroke-opacity=".4" stroke-width=".5"/>
<text class="t" transform="translate(232.6 396.2) scale(0.88 1)">0</text>
<text class="t" transform="translate(232.6 441.6) scale(0.88 1)">-50</text>
<text class="t" transform="translate(232.6 486.9) scale(0.88 1)">-100</text>
<text class="t" text-anchor="end" transform="translate(47.9 387.3) scale(0.88 1)">5000</text>
<text class="t" text-anchor="end" transform="translate(47.9 408.5) scale(0.88 1)">4000</text>
<text class="t" text-anchor="end" transform="translate(47.9 429.7) scale(0.88 1)">3000</text>
<text class="t" text-anchor="end" transform="translate(47.9 450.8) scale(0.88 1)">2000</text>
<text class="t" text-anchor="end" transform="translate(47.9 472.0) scale(0.88 1)">1000</text>
<text class="t" text-anchor="end" transform="translate(47.9 493.2) scale(0.88 1)">0</text>
<text class="t" text-anchor="middle" transform="translate(52.8 504.4) scale(0.88 1)">0</text>
<text class="t" text-anchor="middle" transform="translate(82.9 504.4) scale(0.88 1)">5</text>
<text class="t" text-anchor="middle" transform="translate(113.1 504.4) scale(0.88 1)">10</text>
<text class="t" text-anchor="middle" transform="translate(143.2 504.4) scale(0.88 1)">15</text>
<text class="t" text-anchor="middle" transform="translate(173.4 504.4) scale(0.88 1)">20</text>
<text class="t" text-anchor="middle" transform="translate(203.5 504.4) scale(0.88 1)">25</text>
<path d="M52.8 489.4v-1.6M52.8 382.5v1.6M52.3 383.0h1.6M204.0 383.0h-1.6M82.9 489.4v-1.6M82.9 382.5v1.6M52.3 404.2h1.6M204.0 404.2h-1.6M113.1 489.4v-1.6M113.1 382.5v1.6M52.3 425.4h1.6M204.0 425.4h-1.6M143.2 489.4v-1.6M143.2 382.5v1.6M52.3 446.5h1.6M204.0 446.5h-1.6M173.4 489.4v-1.6M173.4 382.5v1.6M52.3 467.7h1.6M204.0 467.7h-1.6M203.5 489.4v-1.6M203.5 382.5v1.6M52.3 488.9h1.6M204.0 488.9h-1.6" stroke="#222" stroke-opacity=".6" stroke-width=".6" fill="none"/>
<text class="l" text-anchor="middle" transform="translate(128.7 519.4) scale(0.92 1)">Time/ms</text>
<text class="yl" text-anchor="middle" transform="translate(21.0,435.3) rotate(-90)">Frequenency/Hz</text>
<text class="c" text-anchor="middle" transform="translate(127.6 544.4) scale(0.91 1)">(e)</text>
</g>
<g>
<rect x="323.1" y="382.5" width="151.7" height="106.9" fill="url(#gf)" filter="url(#ff)"/>
<rect x="323.1" y="382.5" width="151.7" height="106.9" fill="none" stroke="#222" stroke-opacity=".55" stroke-width=".6"/>
<rect x="486.6" y="383.0" width="13.0" height="105.4" fill="url(#jet)"/>
<rect x="486.6" y="383.0" width="13.0" height="105.4" fill="none" stroke="#222" stroke-opacity=".4" stroke-width=".5"/>
<text class="t" transform="translate(503.4 396.3) scale(0.88 1)">0</text>
<text class="t" transform="translate(503.4 444.1) scale(0.88 1)">-50</text>
<text class="t" transform="translate(503.4 491.0) scale(0.88 1)">-100</text>
<text class="t" text-anchor="end" transform="translate(318.7 387.3) scale(0.88 1)">5000</text>
<text class="t" text-anchor="end" transform="translate(318.7 408.5) scale(0.88 1)">4000</text>
<text class="t" text-anchor="end" transform="translate(318.7 429.7) scale(0.88 1)">3000</text>
<text class="t" text-anchor="end" transform="translate(318.7 450.8) scale(0.88 1)">2000</text>
<text class="t" text-anchor="end" transform="translate(318.7 472.0) scale(0.88 1)">1000</text>
<text class="t" text-anchor="end" transform="translate(318.7 493.2) scale(0.88 1)">0</text>
<text class="t" text-anchor="middle" transform="translate(323.6 504.4) scale(0.88 1)">0</text>
<text class="t" text-anchor="middle" transform="translate(353.7 504.4) scale(0.88 1)">5</text>
<text class="t" text-anchor="middle" transform="translate(383.9 504.4) scale(0.88 1)">10</text>
<text class="t" text-anchor="middle" transform="translate(414.0 504.4) scale(0.88 1)">15</text>
<text class="t" text-anchor="middle" transform="translate(444.2 504.4) scale(0.88 1)">20</text>
<text class="t" text-anchor="middle" transform="translate(474.3 504.4) scale(0.88 1)">25</text>
<path d="M323.6 489.4v-1.6M323.6 382.5v1.6M323.1 383.0h1.6M474.8 383.0h-1.6M353.7 489.4v-1.6M353.7 382.5v1.6M323.1 404.2h1.6M474.8 404.2h-1.6M383.9 489.4v-1.6M383.9 382.5v1.6M323.1 425.4h1.6M474.8 425.4h-1.6M414.0 489.4v-1.6M414.0 382.5v1.6M323.1 446.5h1.6M474.8 446.5h-1.6M444.2 489.4v-1.6M444.2 382.5v1.6M323.1 467.7h1.6M474.8 467.7h-1.6M474.3 489.4v-1.6M474.3 382.5v1.6M323.1 488.9h1.6M474.8 488.9h-1.6" stroke="#222" stroke-opacity=".6" stroke-width=".6" fill="none"/>
<text class="l" text-anchor="middle" transform="translate(399.6 519.4) scale(0.92 1)">Time/ms</text>
<text class="yl" text-anchor="middle" transform="translate(291.8,435.3) rotate(-90)">Frequenency/Hz</text>
<text class="c" text-anchor="middle" transform="translate(398.5 544.4) scale(0.91 1)">(f)</text>
</g>
</svg>
</body></html>
